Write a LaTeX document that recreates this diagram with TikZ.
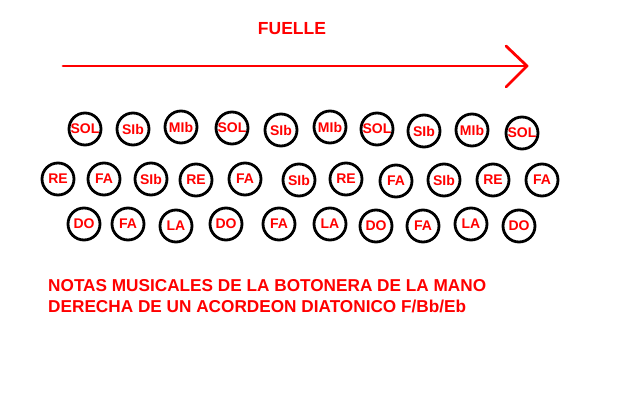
\documentclass[tikz,border=0pt]{standalone}
\usepackage{fontspec}
\setmainfont{Liberation Sans}
\usetikzlibrary{calc}
\begin{document}
\begin{tikzpicture}[x=1pt,y=-1pt,
  btn/.style={circle,draw=black,line width=2.8pt,minimum size=32pt,inner sep=0pt,text=red,font=\fontsize{14}{14}\selectfont\bfseries},
  lbl/.style={text=red,inner sep=0pt}]
\useasboundingbox[fill=white] (0,0) rectangle (640,404);
% row 1
\node[btn] (a1) at (85,129) {SOL};
\node[btn] (a2) at (133,129) {SIb};
\node[btn] (a3) at (181,127) {MIb};
\node[btn] (a4) at (232,128) {SOL};
\node[btn] (a5) at (281,130) {SIb};
\node[btn] (a6) at (330,127) {MIb};
\node[btn] (a7) at (377,129) {SOL};
\node[btn] (a8) at (424,131) {SIb};
\node[btn] (a9) at (472,130) {MIb};
\node[btn] (a10) at (522,133) {SOL};
% row 2
\node[btn] (b1) at (58,179) {RE};
\node[btn] (b2) at (104,179) {FA};
\node[btn] (b3) at (151,179) {SIb};
\node[btn] (b4) at (196,180) {RE};
\node[btn] (b5) at (245,179) {FA};
\node[btn] (b6) at (299,180) {SIb};
\node[btn] (b7) at (346,179) {RE};
\node[btn] (b8) at (396,181) {FA};
\node[btn] (b9) at (444,180) {SIb};
\node[btn] (b10) at (493,180) {RE};
\node[btn] (b11) at (542,180) {FA};
% row 3
\node[btn] (c1) at (84,224) {DO};
\node[btn] (c2) at (128,224) {FA};
\node[btn] (c3) at (176,226) {LA};
\node[btn] (c4) at (226,224) {DO};
\node[btn] (c5) at (279,224) {FA};
\node[btn] (c6) at (330,224) {LA};
\node[btn] (c7) at (376,226) {DO};
\node[btn] (c8) at (423,226) {FA};
\node[btn] (c9) at (471,224) {LA};
\node[btn] (c10) at (519,226) {DO};
% arrow
\node[lbl,font=\fontsize{17.5}{17.5}\selectfont\bfseries] (fuelle) at (292,29) {FUELLE};
\coordinate (s) at (63,66);
\coordinate (e) at (527,66);
\draw[red,line width=2.8pt,line cap=round] (s) -- (e);
\draw[red,line width=2.8pt,line cap=round,line join=round] ($(e)+(-21,-20)$) -- (e) -- ($(e)+(-21,21)$);
% caption
\node[lbl,anchor=north west,align=left,font=\fontsize{17.2}{21}\selectfont\bfseries] (cap) at (48,279) {NOTAS MUSICALES DE LA BOTONERA DE LA MANO\\DERECHA DE UN ACORDEON DIATONICO F/Bb/Eb};
\end{tikzpicture}
\end{document}
